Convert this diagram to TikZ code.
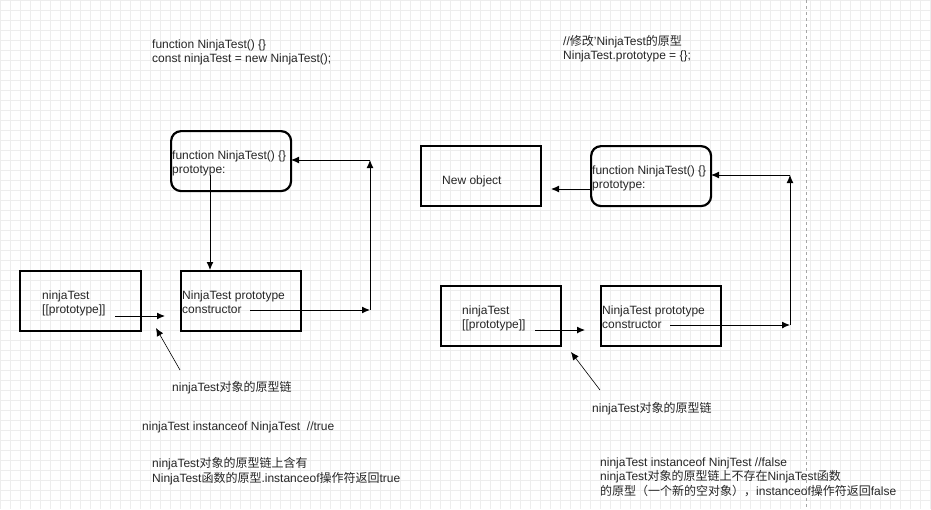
\documentclass[tikz,border=0pt]{standalone}
\usepackage{fontspec}
\setmainfont{Liberation Sans}
\newfontfamily\cjk{Noto Sans CJK SC}
\usetikzlibrary{arrows.meta}
\begin{document}
\begin{tikzpicture}[x=1pt,y=-1pt,
  txt/.style={anchor=base west,inner sep=0pt,font=\fontsize{12}{14}\selectfont,text=black!85,align=left},
  box/.style={draw,line width=2.2pt,anchor=north west,inner sep=0pt},
  rbox/.style={box,rounded corners=10pt},
  arr/.style={-{Latex[length=8pt,width=7pt]},line width=1pt}]
\fill[white] (0,0) rectangle (931,509);
\useasboundingbox (0,0) rectangle (931,509);
\foreach \i in {0,10,...,930} \draw[black!7,line width=0.6pt] (\i,0) -- (\i,509);
\foreach \i in {0,10,...,500} \draw[black!7,line width=0.6pt] (0,\i) -- (931,\i);
\draw[black!35,dashed,line width=0.7pt] (806,0) -- (806,509);
% left
\node[rbox,minimum width=120pt,minimum height=60pt] (f1) at (170,130) {};
\node[box,minimum width=121pt,minimum height=60pt] (n1) at (19,270) {};
\node[box,minimum width=120pt,minimum height=60pt] (p1) at (180,270) {};
\node[txt] (f1t) at (172,159) {function NinjaTest() \{\}};
\node[txt] (f1p) at (172,173) {prototype:};
\node[txt] (n1t) at (42,299) {ninjaTest};
\node[txt] (n1p) at (42,313) {[[prototype]]};
\node[txt] (p1t) at (182,299) {NinjaTest prototype};
\node[txt] (p1c) at (182,313) {constructor};
\coordinate (a1) at (210,175); \coordinate (a2) at (210,270);
\coordinate (b1) at (115,316); \coordinate (b2) at (165,316);
\coordinate (c1) at (250,310); \coordinate (c2) at (370,310);
\coordinate (c3) at (370,160); \coordinate (c4) at (291,160);
\coordinate (d1) at (180,370); \coordinate (d2) at (156,328);
\draw[arr] (a1) -- (a2);
\draw[arr] (b1) -- (b2);
\draw[arr] (c1) -- (c2);
\draw[arr] (c2) -- (c3);
\draw[arr] (c3) -- (c4);
\draw[arr,line width=0.6pt] (d1) -- (d2);
\node[txt] (l1) at (172,391) {ninjaTest{\cjk 对象的原型链}};
\node[txt] (t1) at (152,48) {function NinjaTest() \{\}};
\node[txt] (t2) at (152,62) {const ninjaTest = new NinjaTest();};
\node[txt] (t3) at (142,430) {ninjaTest instanceof NinjaTest\ \ //true};
\node[txt] (t4) at (152,467) {ninjaTest{\cjk 对象的原型链上含有}};
\node[txt] (t5) at (152,482) {NinjaTest{\cjk 函数的原型}.instanceof{\cjk 操作符返回}true};
% right
\node[box,minimum width=120pt,minimum height=60pt] (no) at (420,145) {};
\node[rbox,minimum width=120pt,minimum height=60pt] (f2) at (590,145) {};
\node[box,minimum width=120pt,minimum height=60pt] (n2) at (440,285) {};
\node[box,minimum width=120pt,minimum height=60pt] (p2) at (600,285) {};
\node[txt] (not) at (442,184) {New object};
\node[txt] (f2t) at (592,174) {function NinjaTest() \{\}};
\node[txt] (f2p) at (592,188) {prototype:};
\node[txt] (n2t) at (462,314) {ninjaTest};
\node[txt] (n2p) at (462,328) {[[prototype]]};
\node[txt] (p2t) at (602,314) {NinjaTest prototype};
\node[txt] (p2c) at (602,328) {constructor};
\coordinate (e1) at (590,189); \coordinate (e2) at (551,189);
\coordinate (g1) at (535,330); \coordinate (g2) at (585,330);
\coordinate (h1) at (670,325); \coordinate (h2) at (790,325);
\coordinate (h3) at (790,175); \coordinate (h4) at (711,175);
\coordinate (k1) at (600,390); \coordinate (k2) at (571,352);
\draw[arr] (e1) -- (e2);
\draw[arr] (g1) -- (g2);
\draw[arr] (h1) -- (h2);
\draw[arr] (h2) -- (h3);
\draw[arr] (h3) -- (h4);
\draw[arr,line width=0.6pt] (k1) -- (k2);
\node[txt] (l2) at (592,412) {ninjaTest{\cjk 对象的原型链}};
\node[txt] (t6) at (563,45) {//{\cjk 修改}'NinjaTest{\cjk 的原型}};
\node[txt] (t7) at (563,59) {NinjaTest.prototype = \{\};};
\node[txt] (t8) at (600,466) {ninjaTest instanceof NinjTest //false};
\node[txt] (t9) at (600,480) {ninjaTest{\cjk 对象的原型链上不存在}NinjaTest{\cjk 函数}};
\node[txt] (t10) at (600,495) {{\cjk 的原型（一个新的空对象），}instanceof{\cjk 操作符返回}false};
\end{tikzpicture}
\end{document}
